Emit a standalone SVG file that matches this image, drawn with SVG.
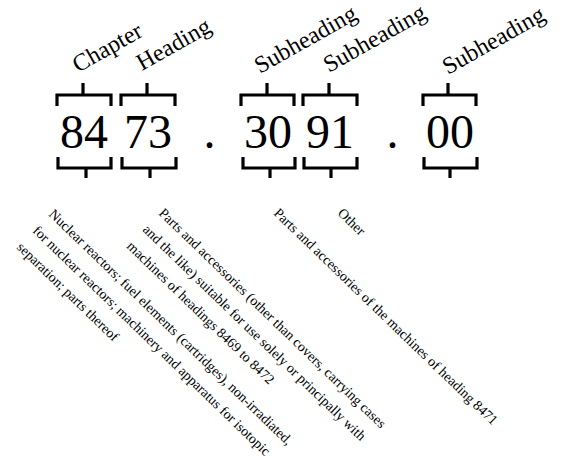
<svg xmlns="http://www.w3.org/2000/svg" width="561" height="467" viewBox="0 0 561 467">
<style>
.lbl{font-family:"Liberation Serif","Times New Roman",serif;font-size:24px;fill:#000}
.dig{font-family:"Liberation Serif","Times New Roman",serif;font-size:48px;fill:#000;text-anchor:middle}
.desc{font-family:"Liberation Serif","Times New Roman",serif;font-size:14px;fill:#000}
.br{fill:none;stroke:#000;stroke-width:3.2;stroke-linejoin:miter;stroke-linecap:butt}
</style>
<rect width="561" height="467" fill="#fff"/>
<g id="chapter">
<text class="lbl" transform="translate(78,73) rotate(-29.5)">Chapter</text>
<path class="br" d="M57,106 V95 H111 V106 M83,95 V83"/>
<text class="dig" x="84" y="148">84</text>
<path class="br" d="M58,157 V168 H111 V157 M86,168 V178"/>
</g>
<g id="heading">
<text class="lbl" transform="translate(142,71) rotate(-29.5)">Heading</text>
<path class="br" d="M121,106 V95 H175 V106 M147,95 V83"/>
<text class="dig" x="148" y="148">73</text>
<path class="br" d="M122,157 V168 H176 V157 M150,168 V178"/>
</g>
<text id="dot1" class="dig" x="209.5" y="148">.</text>
<g id="subheading1">
<text class="lbl" transform="translate(260,74) rotate(-29.5)">Subheading</text>
<path class="br" d="M241,106 V95 H294 V106 M267,95 V83"/>
<text class="dig" x="268" y="148">30</text>
<path class="br" d="M243,157 V168 H295 V157 M270,168 V178"/>
</g>
<g id="subheading2">
<text class="lbl" transform="translate(329,73) rotate(-29.5)">Subheading</text>
<path class="br" d="M303,106 V95 H357 V106 M329,95 V83"/>
<text class="dig" x="330" y="148">91</text>
<path class="br" d="M304,157 V168 H357 V157 M331,168 V178"/>
</g>
<text id="dot2" class="dig" x="392.5" y="148">.</text>
<g id="subheading3">
<text class="lbl" transform="translate(448,75) rotate(-29.5)">Subheading</text>
<path class="br" d="M423,106 V95 H476 V106 M448,95 V83"/>
<text class="dig" x="450" y="148">00</text>
<path class="br" d="M424,157 V168 H477 V157 M450,168 V178"/>
</g>
<g id="desc-8401">
<text class="desc" transform="translate(48,215) rotate(44)"><tspan x="0" y="0">Nuclear reactors; fuel elements (cartridges), non-irradiated,</tspan><tspan x="0" y="23">for nuclear reactors; machinery and apparatus for isotopic</tspan><tspan x="0" y="46">separation; parts thereof</tspan></text>
</g>
<g id="desc-8473">
<text class="desc" transform="translate(158,214) rotate(44)"><tspan x="0" y="0">Parts and accessories (other than covers, carrying cases</tspan><tspan x="0" y="23">and the like) suitable for use solely or principally with</tspan><tspan x="0" y="46">machines of headings 8469 to 8472</tspan></text>
</g>
<g id="desc-847330">
<text class="desc" transform="translate(273,214) rotate(44)">Parts and accessories of the machines of heading 8471</text>
</g>
<g id="desc-847391">
<text class="desc" transform="translate(337,214) rotate(44)">Other</text>
</g>
<g id="connectors"></g>
</svg>
